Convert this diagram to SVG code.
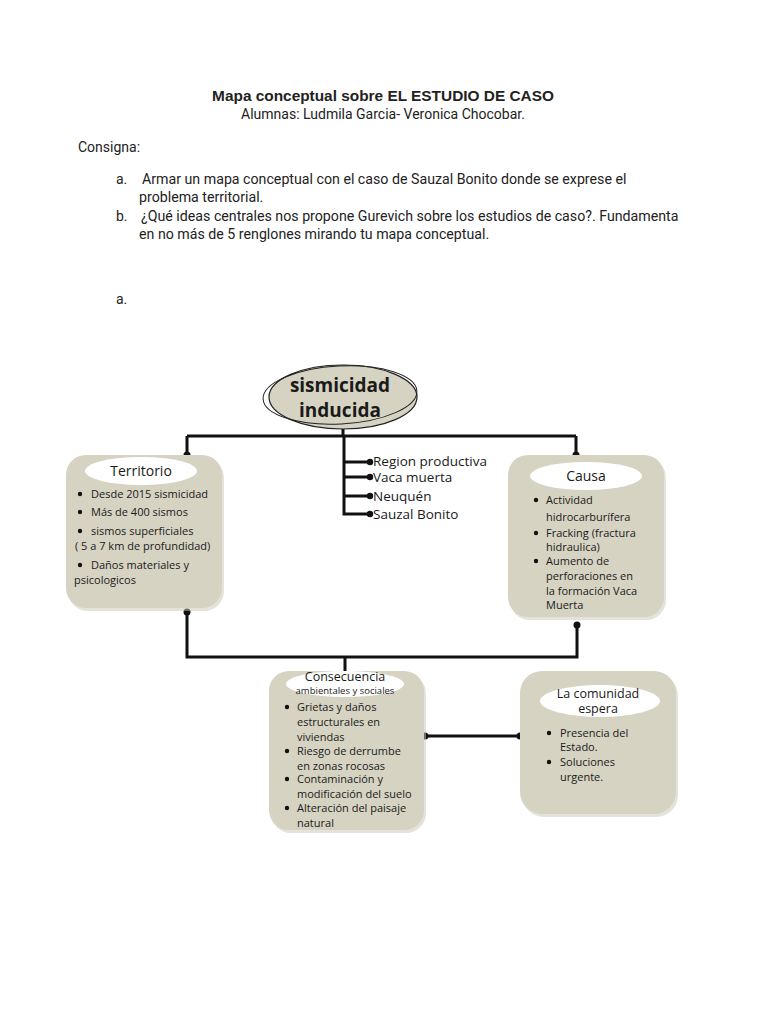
<svg xmlns="http://www.w3.org/2000/svg" width="768" height="1024" viewBox="0 0 768 1024">
<defs>
<style>
.h{font-family:Roboto,"Liberation Sans",Arial,sans-serif;fill:#222}
.t{font-family:"Open Sans","DejaVu Sans",sans-serif;fill:#1a1a1a}
.box{fill:#d6d3c3}
.sh{fill:#c9c6b6;opacity:0.5}
.hdr{fill:#ffffff}
.ln{stroke:#111;stroke-width:3;fill:none}
.dot{fill:#111}
.bu{fill:#111}
.b{font-size:11px}
</style>
</defs>
<rect width="768" height="1024" fill="#ffffff"/>
<g id="header">
<text x="383" y="101" font-size="15.4" font-weight="bold" text-anchor="middle" font-family="'Liberation Sans',Arial,sans-serif" fill="#222">Mapa conceptual sobre EL ESTUDIO DE CASO</text>
<text class="h" x="383" y="119" font-size="14" text-anchor="middle">Alumnas: Ludmila Garcia- Veronica Chocobar.</text>
<text class="h" x="78" y="152" font-size="14">Consigna:</text>
<text class="h" x="116" y="184" font-size="14">a.</text>
<text class="h" x="142" y="184" font-size="14.2">Armar un mapa conceptual con el caso de Sauzal Bonito donde se exprese el</text>
<text class="h" x="139" y="202" font-size="14.2">problema territorial.</text>
<text class="h" x="116" y="221" font-size="14">b.</text>
<text class="h" x="141" y="221" font-size="14.2">¿Qué ideas centrales nos propone Gurevich sobre los estudios de caso?. Fundamenta</text>
<text class="h" x="139" y="239" font-size="14.2">en no más de 5 renglones mirando tu mapa conceptual.</text>
<text class="h" x="116" y="304" font-size="14">a.</text>
</g>
<g id="connectors">
<path class="ln" d="M343 422 V436 M187 436 H576 M187 436 V455 M576 436 V455"/>
<path class="ln" d="M344 436 V514 H370 M344 462 H370 M344 477 H370 M344 496 H370"/>
<circle class="dot" cx="187" cy="455" r="3.5"/>
<circle class="dot" cx="576" cy="455" r="3.5"/>
<circle class="dot" cx="370" cy="462" r="3.2"/>
<circle class="dot" cx="370" cy="477" r="3.2"/>
<circle class="dot" cx="370" cy="496" r="3.2"/>
<circle class="dot" cx="370" cy="514" r="3.2"/>
<path class="ln" d="M187 612 V657 H577 V625 M345 657 V672"/>
<circle class="dot" cx="187" cy="612" r="3.5"/>
<circle class="dot" cx="577" cy="625" r="3.5"/>
<path class="ln" d="M425 736 H520"/>
<circle class="dot" cx="425" cy="736" r="3.5"/>
<circle class="dot" cx="520" cy="736" r="3.5"/>
</g>
<g id="sismicidad">
<ellipse cx="343" cy="397" rx="74" ry="32" fill="#d6d3c3" stroke="#222" stroke-width="1.2"/>
<ellipse cx="340" cy="395" rx="77" ry="29" fill="none" stroke="#222" stroke-width="1" transform="rotate(-3 340 395)"/>
<text class="t" x="340" y="392" font-size="19" font-weight="bold" text-anchor="middle">sismicidad</text>
<text class="t" x="340" y="417" font-size="19" font-weight="bold" text-anchor="middle">inducida</text>
</g>
<g id="lista">
<text class="t" x="373" y="466" font-size="13.5">Region productiva</text>
<text class="t" x="373" y="482" font-size="13.5">Vaca muerta</text>
<text class="t" x="373" y="501" font-size="13.5">Neuquén</text>
<text class="t" x="373" y="519" font-size="13.5">Sauzal Bonito</text>
</g>
<g id="territorio">
<rect class="sh" x="68" y="458" width="156" height="153" rx="20"/>
<rect class="box" x="66" y="455" width="156" height="153" rx="20"/>
<ellipse class="hdr" cx="141" cy="471" rx="56" ry="14"/>
<text class="t" x="141" y="476" font-size="14" text-anchor="middle">Territorio</text>
<circle class="bu" cx="80" cy="494" r="2.2"/><text class="t b" x="91" y="498">Desde 2015 sismicidad</text>
<circle class="bu" cx="80" cy="512" r="2.2"/><text class="t b" x="91" y="516">Más de 400 sismos</text>
<circle class="bu" cx="80" cy="531" r="2.2"/><text class="t b" x="91" y="535">sismos superficiales</text>
<text class="t b" x="75" y="550">( 5 a 7 km de profundidad)</text>
<circle class="bu" cx="80" cy="565" r="2.2"/><text class="t b" x="91" y="569">Daños materiales y</text>
<text class="t b" x="74" y="584">psicologicos</text>
</g>
<g id="causa">
<rect class="sh" x="510" y="458" width="156" height="162" rx="20"/>
<rect class="box" x="508" y="455" width="156" height="162" rx="20"/>
<ellipse class="hdr" cx="586" cy="476" rx="56" ry="14"/>
<text class="t" x="586" y="481" font-size="14" text-anchor="middle">Causa</text>
<circle class="bu" cx="536" cy="500" r="2.2"/><text class="t b" x="546" y="504">Actividad</text>
<text class="t b" x="546" y="521">hidrocarburífera</text>
<circle class="bu" cx="536" cy="533" r="2.2"/><text class="t b" x="546" y="537">Fracking (fractura</text>
<text class="t b" x="546" y="551">hidraulica)</text>
<circle class="bu" cx="536" cy="561" r="2.2"/><text class="t b" x="546" y="565">Aumento de</text>
<text class="t b" x="546" y="580">perforaciones en</text>
<text class="t b" x="546" y="595">la formación Vaca</text>
<text class="t b" x="546" y="609">Muerta</text>
</g>
<g id="consecuencia">
<rect class="sh" x="271" y="674" width="155" height="159" rx="20"/>
<rect class="box" x="269" y="671" width="155" height="159" rx="20"/>
<ellipse class="hdr" cx="345" cy="684" rx="59" ry="13"/>
<text class="t" x="345" y="681" font-size="12.5" text-anchor="middle">Consecuencia</text>
<text class="t" x="345" y="694" font-size="9.5" text-anchor="middle">ambientales y sociales</text>
<circle class="bu" cx="287" cy="707" r="2.2"/><text class="t b" x="297" y="711"> Grietas y daños</text>
<text class="t b" x="297" y="726">estructurales en</text>
<text class="t b" x="297" y="741">viviendas</text>
<circle class="bu" cx="287" cy="751" r="2.2"/><text class="t b" x="297" y="755"> Riesgo de derrumbe</text>
<text class="t b" x="297" y="770">en zonas rocosas</text>
<circle class="bu" cx="287" cy="779" r="2.2"/><text class="t b" x="297" y="783">Contaminación y</text>
<text class="t b" x="297" y="798">modificación del suelo</text>
<circle class="bu" cx="287" cy="808" r="2.2"/><text class="t b" x="297" y="812">Alteración del paisaje</text>
<text class="t b" x="297" y="827">natural</text>
</g>
<g id="comunidad">
<rect class="sh" x="522" y="674" width="156" height="143" rx="22"/>
<rect class="box" x="520" y="671" width="156" height="143" rx="22"/>
<ellipse class="hdr" cx="600" cy="701" rx="60" ry="16"/>
<text class="t" x="598" y="698" font-size="12.5" text-anchor="middle">La comunidad</text>
<text class="t" x="598" y="713" font-size="12.5" text-anchor="middle">espera</text>
<circle class="bu" cx="549" cy="733" r="2.2"/><text class="t b" x="560" y="737">Presencia del</text>
<text class="t b" x="560" y="751">Estado.</text>
<circle class="bu" cx="549" cy="762" r="2.2"/><text class="t b" x="560" y="766">Soluciones</text>
<text class="t b" x="560" y="781">urgente.</text>
</g>
</svg>
